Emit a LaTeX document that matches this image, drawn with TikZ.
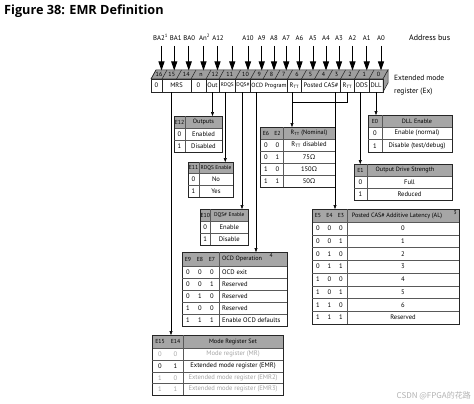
\documentclass[tikz,border=0pt]{standalone}
\usepackage{fontspec}
\setmainfont{PT Sans}
\newfontfamily\titlefont{Open Sans}
\newfontfamily\omfont{Open Sans}
\newfontfamily\cjkfont{Noto Sans CJK SC}
\usetikzlibrary{arrows.meta,fit}
\newcommand\ohm{{\omfont Ω}}
\newcommand\rtt{R\textsubscript{TT}}
\newcommand\tabframe[6]{%
  \fill[hdr] (#2,#3) rectangle (#4,#5);
  \draw[tabline] (#2,#5) -- (#4,#5);
  \node[tabbox, fit={(#2,#3) (#4,#6)}] (#1) {};
}
\newcommand\regcell[5][]{%
  \pgfmathsetmacro\cw{#4-#3}\pgfmathsetmacro\cx{(#3+#4)/2}%
  \node[regcell,#1, minimum width=\cw pt] (#2) at (\cx,85.5) {#5};
}
\tikzset{
  regcell/.style={draw=black!85, line width=0.5pt, minimum height=13pt, inner sep=0pt, outer sep=0pt, font=\fontsize{6.5}{7}\selectfont},
  tabbox/.style={draw=black!85, line width=0.6pt, inner sep=0pt, outer sep=0pt},
  tabline/.style={draw=black!65, line width=0.45pt},
  hdr/.style={fill=black!35},
  topgray/.style={fill=black!38},
  txt/.style={inner sep=0pt, font=\fontsize{6.6}{7}\selectfont},
  htxt/.style={inner sep=0pt, font=\fontsize{6.2}{7}\selectfont},
  btxt/.style={inner sep=0pt, font=\fontsize{5.8}{6}\selectfont},
  greytxt/.style={txt, text=black!35},
  conn/.style={draw=black, line width=0.5pt, -{Triangle[width=3pt,length=4pt]}},
  addrarrow/.style={line width=0.9pt, -{Triangle[width=6pt,length=9pt]}},
  addrtxt/.style={inner sep=0pt, text height=5pt, text depth=0pt, font=\fontsize{6.8}{8}\selectfont},
}
\begin{document}
\begin{tikzpicture}[x=1pt,y=-1pt]
\useasboundingbox (0,0) rectangle (474,404);
\fill[white] (0,0) rectangle (474,404);

% title
\node[anchor=west, inner sep=0pt, font=\titlefont\bfseries\fontsize{12.7}{14}\selectfont] (title) at (4,11) {Figure 38: EMR Definition};

% register: top face and side face
\filldraw[topgray, draw=black!85, line width=0.5pt] (151,79) -- (156,70) -- (388,70) -- (383,79) -- cycle;
\filldraw[topgray, draw=black!85, line width=0.5pt] (383,79) -- (388,70) -- (388,83) -- (383,92) -- cycle;
\foreach \a/\b/\l in {151/162/16, 162/176.5/15, 176.5/191/14, 191/206/n, 206/219/12, 219/235.5/11, 235.5/250.5/10, 250.5/263/9, 263/275/8, 275/287.5/7, 287.5/301.5/6, 301.5/314.5/5, 314.5/327.5/4, 327.5/340.5/3, 340.5/354.5/2, 354.5/369/1, 369/383/0} {
  \draw[black!85, line width=0.5pt] (\a,79) -- ++(5,-9);
  \node[btxt, font=\fontsize{6}{6}\selectfont] at ({(\a+\b)/2+2.5},74.7) {\l};
}
% front cells
\regcell{c16}{151}{162}{0}
\regcell{cMrs}{162}{191}{MRS}
\regcell{cN}{191}{206}{0}
\regcell{cOut}{206}{219}{Out}
\regcell[font=\fontsize{5.2}{5}\selectfont]{cRdqs}{219}{235.5}{RDQS}
\regcell[font=\fontsize{5.4}{5}\selectfont]{cDqs}{235.5}{250.5}{DQS\#}
\regcell[font=\fontsize{6.1}{6}\selectfont]{cOcd}{250.5}{287.5}{OCD Program}
\regcell{cRtt6}{287.5}{301.5}{\rtt}
\regcell{cCas}{301.5}{340.5}{Posted CAS\#}
\regcell{cRtt2}{340.5}{354.5}{\rtt}
\regcell{cOds}{354.5}{369}{ODS}
\regcell{cDll}{369}{383}{DLL}

% address labels and arrows
\foreach \a/\b/\l/\s [count=\i] in {151/162/{BA2\rlap{\textsuperscript{1}}}/-2.5, 162/176.5/BA1/1.5, 176.5/191/BA0/0.5, 191/206/{An\rlap{\textsuperscript{2}}}/-0.5, 206/219/A12/0.5, 219/235.5/{}/0, 235.5/250.5/A10/0, 250.5/263/A9/0, 263/275/A8/0, 275/287.5/A7/0, 287.5/301.5/A6/0, 301.5/314.5/A5/0, 314.5/327.5/A4/0, 327.5/340.5/A3/0, 340.5/354.5/A2/0, 354.5/369/A1/0, 369/383/A0/0} {
  \node[addrtxt] (al\i) at ({(\a+\b)/2+5+\s},38) {\l};
  \coordinate (as\i) at ({(\a+\b)/2+5},46);
  \coordinate (ad\i) at ({(\a+\b)/2+5},70.5);
  \draw[addrarrow] (as\i) -- (ad\i);
}
\node[anchor=west, inner sep=0pt, text height=5pt, font=\fontsize{8}{9}\selectfont] (abus) at (409,38) {Address bus};
\node[anchor=west, inner sep=0pt, font=\fontsize{7.5}{8}\selectfont] (ex1) at (394,78) {Extended mode};
\node[anchor=west, inner sep=0pt, font=\fontsize{7.5}{8}\selectfont] (ex2) at (394,92) {register (Ex)};

% Table: Outputs
\tabframe{tOut}{174}{116}{222}{128}{152}
\draw[tabline] (174,140) -- (222,140);
\draw[tabline] (185,116) -- (185,152);
\node[btxt] at (179.5,122) {E12};
\node[htxt] at (203.5,122) {Outputs};
\node[txt] at (179.5,134) {0}; \node[txt] at (203.5,134) {Enabled};
\node[txt] at (179.5,146) {1}; \node[txt] at (203.5,146) {Disabled};

% Table: RDQS Enable
\tabframe{tRdqs}{188}{162}{233}{173.5}{197}
\draw[tabline] (188,185) -- (233,185);
\draw[tabline] (199,162) -- (199,197);
\node[btxt] at (193.5,167.75) {E11};
\node[htxt, font=\fontsize{5.4}{5}\selectfont] at (216,167.75) {RDQS Enable};
\node[txt] at (193.5,179.25) {0}; \node[txt] at (216,179.25) {No};
\node[txt] at (193.5,191) {1}; \node[txt] at (216,191) {Yes};

% Table: DQS# Enable
\tabframe{tDqs}{200}{209}{248}{221}{245}
\draw[tabline] (200,233) -- (248,233);
\draw[tabline] (210.5,209) -- (210.5,245);
\node[btxt] at (205.25,215) {E10};
\node[htxt, font=\fontsize{5.4}{5}\selectfont] at (229.25,215) {DQS\# Enable};
\node[txt] at (205.25,227) {0}; \node[txt] at (229.25,227) {Enable};
\node[txt] at (205.25,239) {1}; \node[txt] at (229.25,239) {Disable};

% Table: OCD Operation
\tabframe{tOcd}{182}{252}{287}{266}{326}
\foreach \yy in {278,290,302,314} \draw[tabline] (182,\yy) -- (287,\yy);
\draw[tabline] (219,252) -- (219,326);
\node[btxt] at (188,259) {E9}; \node[btxt] at (200,259) {E8}; \node[btxt] at (212,259) {E7};
\node[htxt, anchor=west] at (222,259) {OCD Operation};
\node[htxt, font=\fontsize{5.5}{5}\selectfont] at (271,255.5) {4};
\foreach \a/\b/\c/\t [count=\i] in {0/0/0/OCD exit, 0/0/1/Reserved, 0/1/0/Reserved, 1/0/0/Reserved, 1/1/1/Enable OCD defaults} {
  \pgfmathsetmacro\yy{266+(\i-0.5)*12}
  \node[txt] at (188,\yy) {\a}; \node[txt] at (200,\yy) {\b}; \node[txt] at (212,\yy) {\c};
  \node[txt, anchor=west] at (222,\yy) {\t};
}

% Table: Rtt
\tabframe{tRtt}{260}{127}{335}{139}{187}
\foreach \yy in {151,163,175} \draw[tabline] (260,\yy) -- (335,\yy);
\draw[tabline] (283,127) -- (283,187);
\node[btxt] at (266,133) {E6}; \node[btxt] at (277.5,133) {E2};
\node[htxt] at (309,133) {\rtt{} (Nominal)};
\foreach \a/\b/\t [count=\i] in {0/0/{\rtt{} disabled}, 0/1/{75\ohm}, 1/0/{150\ohm}, 1/1/{50\ohm}} {
  \pgfmathsetmacro\yy{139+(\i-0.5)*12}
  \node[txt] at (266,\yy) {\a}; \node[txt] at (277.5,\yy) {\b};
  \node[txt] at (309,\yy) {\t};
}

% Table: DLL Enable
\tabframe{tDll}{368}{115}{452}{127}{152}
\draw[tabline] (368,139.5) -- (452,139.5);
\draw[tabline] (382,115) -- (382,152);
\node[btxt] at (375,121) {E0}; \node[htxt] at (417,121) {DLL Enable};
\node[txt] at (375,133.25) {0}; \node[txt] at (417,133.25) {Enable (normal)};
\node[txt] at (375,145.75) {1}; \node[txt] at (417,145.75) {Disable (test/debug)};

% Table: Output Drive Strength
\tabframe{tOds}{354}{164}{452}{176}{200}
\draw[tabline] (354,188) -- (452,188);
\draw[tabline] (367,164) -- (367,200);
\node[btxt] at (360.5,170) {E1}; \node[htxt] at (405,170) {Output Drive Strength};
\node[txt] at (360.5,182) {0}; \node[txt] at (409.5,182) {Full};
\node[txt] at (360.5,194) {1}; \node[txt] at (409.5,194) {Reduced};

% Table: Posted CAS# Additive Latency
\tabframe{tCas}{312}{209}{459}{222}{324}
\foreach \k in {1,...,7} \draw[tabline] (312,{222+\k*12.75}) -- (459,{222+\k*12.75});
\draw[tabline] (347,209) -- (347,324);
\node[btxt] at (318,215.5) {E5}; \node[btxt] at (329.5,215.5) {E4}; \node[btxt] at (341,215.5) {E3};
\node[htxt] at (397,215.5) {Posted CAS\# Additive Latency (AL)};
\node[htxt, font=\fontsize{5.5}{5}\selectfont] at (455,212.5) {3};
\foreach \a/\b/\c/\t [count=\i] in {0/0/0/0, 0/0/1/1, 0/1/0/2, 0/1/1/3, 1/0/0/4, 1/0/1/5, 1/1/0/6, 1/1/1/Reserved} {
  \pgfmathsetmacro\yy{222+(\i-0.5)*12.75}
  \node[txt] at (318,\yy) {\a}; \node[txt] at (329.5,\yy) {\b}; \node[txt] at (341,\yy) {\c};
  \node[txt] at (403,\yy) {\t};
}

% Table: Mode Register Set
\tabframe{tMrs}{152}{335}{283}{348}{395}
\foreach \yy in {360,372,383.5} \draw[tabline] (152,\yy) -- (283,\yy);
\draw[tabline] (183,335) -- (183,395);
\node[btxt] at (160,341.5) {E15}; \node[btxt] at (175.5,341.5) {E14};
\node[htxt] at (233,341.5) {Mode Register Set};
\node[greytxt] at (160,354) {0}; \node[greytxt] at (175.5,354) {0}; \node[greytxt] at (233,354) {Mode register (MR)};
\node[txt] at (160,366) {0}; \node[txt] at (175.5,366) {1}; \node[txt] at (233,366) {Extended mode register (EMR)};
\node[greytxt] at (160,377.75) {1}; \node[greytxt] at (175.5,377.75) {0}; \node[greytxt] at (233,377.75) {Extended mode register (EMR2)};
\node[greytxt] at (160,389.25) {1}; \node[greytxt] at (175.5,389.25) {1}; \node[greytxt] at (233,389.25) {Extended mode register (EMR3)};

% connectors
\draw[conn] ([xshift=-5.5pt]cMrs.south) -- ([xshift=-5.5pt]cMrs.south |- tMrs.north);
\draw[conn] (cOut.south) -- (cOut.south |- tOut.north);
\draw[conn] ([xshift=-2pt]cRdqs.south) -- ([xshift=-2pt]cRdqs.south |- tRdqs.north);
\draw[conn] ([xshift=-1pt]cDqs.south) -- ([xshift=-1pt]cDqs.south |- tDqs.north);
\draw[conn] ([xshift=-13pt]cOcd.south) -- ([xshift=-13pt]cOcd.south |- tOcd.north);
\draw[conn] ([xshift=-2.5pt]cRtt6.south) -- ([xshift=-2.5pt]cRtt6.south |- tRtt.north);
\draw[black, line width=0.5pt] (cRtt2.south) |- ([xshift=-2.5pt,yshift=-10pt]cRtt6.south);
\draw[conn] ([xshift=14pt]cCas.south) -- ([xshift=14pt]cCas.south |- tCas.north);
\draw[conn] ([xshift=-1.5pt]cOds.south) -- ([xshift=-1.5pt]cOds.south |- tOds.north);
\draw[conn] (cDll.south) -- (cDll.south |- tDll.north);

% watermark
\node[anchor=east, inner sep=0pt, text=black!30, font=\cjkfont\fontsize{8}{9}\selectfont] (wm) at (471,396) {CSDN @FPGA的花路};
\end{tikzpicture}
\end{document}
